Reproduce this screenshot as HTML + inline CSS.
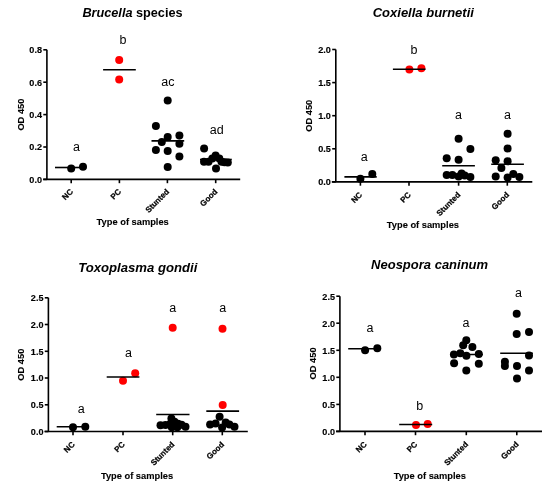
<!DOCTYPE html>
<html><head><meta charset="utf-8"><style>
html,body{margin:0;padding:0;background:#fff;width:550px;height:490px;overflow:hidden}
svg{display:block;will-change:transform;filter:blur(0.35px)}
text{font-family:"Liberation Sans",sans-serif}
.t{font-size:13px;font-weight:bold}
.tl{font-size:9.9px;font-weight:bold;stroke:#000;stroke-width:0.15px}
.at{font-size:9.3px;font-weight:bold;stroke:#000;stroke-width:0.1px}
.cl{font-size:8px;font-weight:bold;stroke:#000;stroke-width:0.25px}
.lt{font-size:12.5px}
</style></head><body>
<svg width="550" height="490" viewBox="0 0 550 490">
<rect width="550" height="490" fill="#fff"/>
<g>
<text class="t" x="132.5" y="17.3" text-anchor="middle" style="font-size:12.7px"><tspan font-style='italic'>Brucella</tspan> species</text>
<path d="M46.9 49.8 V179.4 M43.2 179.4 H240.2" stroke="#000" stroke-width="1.6" fill="none"/>
<path d="M43.3 179.4 H46.9" stroke="#000" stroke-width="1.6"/>
<text class="tl" x="0" y="0" text-anchor="end" transform="translate(42.0 182.8) scale(0.92 1)">0.0</text>
<path d="M43.3 147.0 H46.9" stroke="#000" stroke-width="1.6"/>
<text class="tl" x="0" y="0" text-anchor="end" transform="translate(42.0 150.4) scale(0.92 1)">0.2</text>
<path d="M43.3 114.6 H46.9" stroke="#000" stroke-width="1.6"/>
<text class="tl" x="0" y="0" text-anchor="end" transform="translate(42.0 118.0) scale(0.92 1)">0.4</text>
<path d="M43.3 82.2 H46.9" stroke="#000" stroke-width="1.6"/>
<text class="tl" x="0" y="0" text-anchor="end" transform="translate(42.0 85.6) scale(0.92 1)">0.6</text>
<path d="M43.3 49.8 H46.9" stroke="#000" stroke-width="1.6"/>
<text class="tl" x="0" y="0" text-anchor="end" transform="translate(42.0 53.2) scale(0.92 1)">0.8</text>
<path d="M71.2 179.4 V183.2" stroke="#000" stroke-width="1.6"/>
<text class="cl" x="0" y="0" text-anchor="end" transform="translate(73.5 192.2) rotate(-45)">NC</text>
<path d="M119.4 179.4 V183.2" stroke="#000" stroke-width="1.6"/>
<text class="cl" x="0" y="0" text-anchor="end" transform="translate(121.7 192.2) rotate(-45)">PC</text>
<path d="M167.4 179.4 V183.2" stroke="#000" stroke-width="1.6"/>
<text class="cl" x="0" y="0" text-anchor="end" transform="translate(169.7 192.2) rotate(-45)">Stunted</text>
<path d="M215.7 179.4 V183.2" stroke="#000" stroke-width="1.6"/>
<text class="cl" x="0" y="0" text-anchor="end" transform="translate(218.0 192.2) rotate(-45)">Good</text>
<text class="at" x="0" y="0" text-anchor="middle" transform="translate(23.5 114.6) rotate(-90)">OD 450</text>
<text class="at" x="132.7" y="224.9" text-anchor="middle">Type of samples</text>
<circle cx="71.2" cy="168.6" r="4.0" fill="#000"/>
<circle cx="83" cy="166.8" r="4.0" fill="#000"/>
<circle cx="119.2" cy="60" r="4.0" fill="#f00"/>
<circle cx="119.2" cy="79.6" r="4.0" fill="#f00"/>
<circle cx="167.7" cy="100.5" r="4.0" fill="#000"/>
<circle cx="155.9" cy="126" r="4.0" fill="#000"/>
<circle cx="167.7" cy="137.1" r="4.0" fill="#000"/>
<circle cx="179.4" cy="135.6" r="4.0" fill="#000"/>
<circle cx="161.8" cy="141.9" r="4.0" fill="#000"/>
<circle cx="179.4" cy="143.7" r="4.0" fill="#000"/>
<circle cx="155.9" cy="150" r="4.0" fill="#000"/>
<circle cx="167.7" cy="151.1" r="4.0" fill="#000"/>
<circle cx="179.4" cy="156.6" r="4.0" fill="#000"/>
<circle cx="167.7" cy="166.9" r="4.0" fill="#000"/>
<circle cx="204.1" cy="148.4" r="4.0" fill="#000"/>
<circle cx="216" cy="168.4" r="4.0" fill="#000"/>
<circle cx="204" cy="161.8" r="4.0" fill="#000"/>
<circle cx="208.5" cy="161.8" r="4.0" fill="#000"/>
<circle cx="212.3" cy="158.5" r="4.0" fill="#000"/>
<circle cx="215.6" cy="155.6" r="4.0" fill="#000"/>
<circle cx="219.3" cy="158.5" r="4.0" fill="#000"/>
<circle cx="221.5" cy="161.8" r="4.0" fill="#000"/>
<circle cx="224.5" cy="162.3" r="4.0" fill="#000"/>
<circle cx="227.8" cy="162.5" r="4.0" fill="#000"/>
<path d="M55 167.5 H86.4" stroke="#000" stroke-width="1.6"/>
<path d="M103.1 69.8 H135.8" stroke="#000" stroke-width="1.6"/>
<path d="M151.5 140.9 H184.2" stroke="#000" stroke-width="1.6"/>
<path d="M200 159.5 H231.8" stroke="#000" stroke-width="1.6"/>
<text class="lt" x="76.4" y="151.3" text-anchor="middle">a</text>
<text class="lt" x="123" y="43.5" text-anchor="middle">b</text>
<text class="lt" x="167.8" y="85.5" text-anchor="middle">ac</text>
<text class="lt" x="216.7" y="134" text-anchor="middle">ad</text>
</g>
<g>
<text class="t" x="423.3" y="17" text-anchor="middle" style="font-size:13px"><tspan font-style='italic'>Coxiella burnetii</tspan></text>
<path d="M335.8 49.5 V181.9 M331.8 181.9 H532.3" stroke="#000" stroke-width="1.6" fill="none"/>
<path d="M332.2 181.9 H335.8" stroke="#000" stroke-width="1.6"/>
<text class="tl" x="0" y="0" text-anchor="end" transform="translate(330.9 185.3) scale(0.92 1)">0.0</text>
<path d="M332.2 148.8 H335.8" stroke="#000" stroke-width="1.6"/>
<text class="tl" x="0" y="0" text-anchor="end" transform="translate(330.9 152.2) scale(0.92 1)">0.5</text>
<path d="M332.2 115.7 H335.8" stroke="#000" stroke-width="1.6"/>
<text class="tl" x="0" y="0" text-anchor="end" transform="translate(330.9 119.1) scale(0.92 1)">1.0</text>
<path d="M332.2 82.6 H335.8" stroke="#000" stroke-width="1.6"/>
<text class="tl" x="0" y="0" text-anchor="end" transform="translate(330.9 86.0) scale(0.92 1)">1.5</text>
<path d="M332.2 49.5 H335.8" stroke="#000" stroke-width="1.6"/>
<text class="tl" x="0" y="0" text-anchor="end" transform="translate(330.9 52.9) scale(0.92 1)">2.0</text>
<path d="M360.4 181.9 V185.7" stroke="#000" stroke-width="1.6"/>
<text class="cl" x="0" y="0" text-anchor="end" transform="translate(362.7 195.4) rotate(-45)">NC</text>
<path d="M409 181.9 V185.7" stroke="#000" stroke-width="1.6"/>
<text class="cl" x="0" y="0" text-anchor="end" transform="translate(411.3 195.4) rotate(-45)">PC</text>
<path d="M458.6 181.9 V185.7" stroke="#000" stroke-width="1.6"/>
<text class="cl" x="0" y="0" text-anchor="end" transform="translate(460.9 195.4) rotate(-45)">Stunted</text>
<path d="M507.3 181.9 V185.7" stroke="#000" stroke-width="1.6"/>
<text class="cl" x="0" y="0" text-anchor="end" transform="translate(509.6 195.4) rotate(-45)">Good</text>
<text class="at" x="0" y="0" text-anchor="middle" transform="translate(312.4 115.8) rotate(-90)">OD 450</text>
<text class="at" x="422.9" y="227.7" text-anchor="middle">Type of samples</text>
<circle cx="360.4" cy="178.7" r="4.0" fill="#000"/>
<circle cx="372.3" cy="174.1" r="4.0" fill="#000"/>
<circle cx="409.4" cy="69.6" r="4.0" fill="#f00"/>
<circle cx="421.4" cy="68.2" r="4.0" fill="#f00"/>
<circle cx="458.6" cy="138.8" r="4.0" fill="#000"/>
<circle cx="470.4" cy="149" r="4.0" fill="#000"/>
<circle cx="446.7" cy="158.2" r="4.0" fill="#000"/>
<circle cx="458.6" cy="159.8" r="4.0" fill="#000"/>
<circle cx="446.7" cy="175.1" r="4.0" fill="#000"/>
<circle cx="452.4" cy="175.1" r="4.0" fill="#000"/>
<circle cx="458.6" cy="176.5" r="4.0" fill="#000"/>
<circle cx="461.6" cy="173.5" r="4.0" fill="#000"/>
<circle cx="464.7" cy="175.5" r="4.0" fill="#000"/>
<circle cx="470.4" cy="177.1" r="4.0" fill="#000"/>
<circle cx="507.6" cy="133.7" r="4.0" fill="#000"/>
<circle cx="507.6" cy="148.4" r="4.0" fill="#000"/>
<circle cx="495.7" cy="160.2" r="4.0" fill="#000"/>
<circle cx="507.6" cy="161.2" r="4.0" fill="#000"/>
<circle cx="501.4" cy="168" r="4.0" fill="#000"/>
<circle cx="495.7" cy="176.5" r="4.0" fill="#000"/>
<circle cx="507.6" cy="177.6" r="4.0" fill="#000"/>
<circle cx="513.3" cy="173.9" r="4.0" fill="#000"/>
<circle cx="519.4" cy="177.1" r="4.0" fill="#000"/>
<path d="M344.4 176.9 H376.7" stroke="#000" stroke-width="1.6"/>
<path d="M392.9 69.2 H425.5" stroke="#000" stroke-width="1.6"/>
<path d="M442.2 165.7 H474.9" stroke="#000" stroke-width="1.6"/>
<path d="M491.2 164.2 H523.9" stroke="#000" stroke-width="1.6"/>
<text class="lt" x="364.2" y="160.5" text-anchor="middle">a</text>
<text class="lt" x="413.9" y="53.5" text-anchor="middle">b</text>
<text class="lt" x="458.6" y="119" text-anchor="middle">a</text>
<text class="lt" x="507.6" y="119" text-anchor="middle">a</text>
</g>
<g>
<text class="t" x="137.8" y="272" text-anchor="middle" style="font-size:13.15px"><tspan font-style='italic'>Toxoplasma gondii</tspan></text>
<path d="M48.4 297.8 V431.5 M44.5 431.5 H247.8" stroke="#000" stroke-width="1.6" fill="none"/>
<path d="M44.8 431.5 H48.4" stroke="#000" stroke-width="1.6"/>
<text class="tl" x="0" y="0" text-anchor="end" transform="translate(43.5 434.9) scale(0.92 1)">0.0</text>
<path d="M44.8 404.8 H48.4" stroke="#000" stroke-width="1.6"/>
<text class="tl" x="0" y="0" text-anchor="end" transform="translate(43.5 408.2) scale(0.92 1)">0.5</text>
<path d="M44.8 378.0 H48.4" stroke="#000" stroke-width="1.6"/>
<text class="tl" x="0" y="0" text-anchor="end" transform="translate(43.5 381.4) scale(0.92 1)">1.0</text>
<path d="M44.8 351.3 H48.4" stroke="#000" stroke-width="1.6"/>
<text class="tl" x="0" y="0" text-anchor="end" transform="translate(43.5 354.7) scale(0.92 1)">1.5</text>
<path d="M44.8 324.5 H48.4" stroke="#000" stroke-width="1.6"/>
<text class="tl" x="0" y="0" text-anchor="end" transform="translate(43.5 327.9) scale(0.92 1)">2.0</text>
<path d="M44.8 297.8 H48.4" stroke="#000" stroke-width="1.6"/>
<text class="tl" x="0" y="0" text-anchor="end" transform="translate(43.5 301.2) scale(0.92 1)">2.5</text>
<path d="M73 431.5 V435.3" stroke="#000" stroke-width="1.6"/>
<text class="cl" x="0" y="0" text-anchor="end" transform="translate(75.3 445.0) rotate(-45)">NC</text>
<path d="M123 431.5 V435.3" stroke="#000" stroke-width="1.6"/>
<text class="cl" x="0" y="0" text-anchor="end" transform="translate(125.3 445.0) rotate(-45)">PC</text>
<path d="M172.7 431.5 V435.3" stroke="#000" stroke-width="1.6"/>
<text class="cl" x="0" y="0" text-anchor="end" transform="translate(175.0 445.0) rotate(-45)">Stunted</text>
<path d="M222.3 431.5 V435.3" stroke="#000" stroke-width="1.6"/>
<text class="cl" x="0" y="0" text-anchor="end" transform="translate(224.6 445.0) rotate(-45)">Good</text>
<text class="at" x="0" y="0" text-anchor="middle" transform="translate(23.9 364.7) rotate(-90)">OD 450</text>
<text class="at" x="137" y="478.6" text-anchor="middle">Type of samples</text>
<circle cx="73" cy="427.2" r="4.0" fill="#000"/>
<circle cx="85.3" cy="426.7" r="4.0" fill="#000"/>
<circle cx="123" cy="380.7" r="4.0" fill="#f00"/>
<circle cx="135.2" cy="373.2" r="4.0" fill="#f00"/>
<circle cx="172.7" cy="327.8" r="4.0" fill="#f00"/>
<circle cx="160.5" cy="425.3" r="4.0" fill="#000"/>
<circle cx="165.5" cy="425" r="4.0" fill="#000"/>
<circle cx="171.4" cy="418.6" r="4.0" fill="#000"/>
<circle cx="170.2" cy="424" r="4.0" fill="#000"/>
<circle cx="174.5" cy="421.8" r="4.0" fill="#000"/>
<circle cx="178" cy="423.8" r="4.0" fill="#000"/>
<circle cx="181.5" cy="424.8" r="4.0" fill="#000"/>
<circle cx="185.5" cy="426.8" r="4.0" fill="#000"/>
<circle cx="171.8" cy="427.3" r="4.0" fill="#000"/>
<circle cx="177.3" cy="427.3" r="4.0" fill="#000"/>
<circle cx="222.5" cy="328.7" r="4.0" fill="#f00"/>
<circle cx="222.7" cy="405.1" r="4.0" fill="#f00"/>
<circle cx="219.6" cy="416.8" r="4.0" fill="#000"/>
<circle cx="210.1" cy="424.4" r="4.0" fill="#000"/>
<circle cx="215.6" cy="423.5" r="4.0" fill="#000"/>
<circle cx="222.1" cy="427.6" r="4.0" fill="#000"/>
<circle cx="225.7" cy="422.6" r="4.0" fill="#000"/>
<circle cx="229.4" cy="424.4" r="4.0" fill="#000"/>
<circle cx="234.5" cy="426.7" r="4.0" fill="#000"/>
<path d="M56.7 426.7 H88.6" stroke="#000" stroke-width="1.6"/>
<path d="M106.7 377.0 H139.4" stroke="#000" stroke-width="1.6"/>
<path d="M156.2 414.5 H189.5" stroke="#000" stroke-width="1.6"/>
<path d="M206.3 411.1 H239.1" stroke="#000" stroke-width="1.6"/>
<text class="lt" x="81.2" y="413" text-anchor="middle">a</text>
<text class="lt" x="128.4" y="357.4" text-anchor="middle">a</text>
<text class="lt" x="172.7" y="312" text-anchor="middle">a</text>
<text class="lt" x="222.7" y="312" text-anchor="middle">a</text>
</g>
<g>
<text class="t" x="429.6" y="269.4" text-anchor="middle" style="font-size:13px"><tspan font-style='italic'>Neospora caninum</tspan></text>
<path d="M339.9 296.2 V431.4 M336 431.4 H542" stroke="#000" stroke-width="1.6" fill="none"/>
<path d="M336.3 431.4 H339.9" stroke="#000" stroke-width="1.6"/>
<text class="tl" x="0" y="0" text-anchor="end" transform="translate(335.0 434.8) scale(0.92 1)">0.0</text>
<path d="M336.3 404.4 H339.9" stroke="#000" stroke-width="1.6"/>
<text class="tl" x="0" y="0" text-anchor="end" transform="translate(335.0 407.8) scale(0.92 1)">0.5</text>
<path d="M336.3 377.3 H339.9" stroke="#000" stroke-width="1.6"/>
<text class="tl" x="0" y="0" text-anchor="end" transform="translate(335.0 380.7) scale(0.92 1)">1.0</text>
<path d="M336.3 350.3 H339.9" stroke="#000" stroke-width="1.6"/>
<text class="tl" x="0" y="0" text-anchor="end" transform="translate(335.0 353.7) scale(0.92 1)">1.5</text>
<path d="M336.3 323.2 H339.9" stroke="#000" stroke-width="1.6"/>
<text class="tl" x="0" y="0" text-anchor="end" transform="translate(335.0 326.6) scale(0.92 1)">2.0</text>
<path d="M336.3 296.2 H339.9" stroke="#000" stroke-width="1.6"/>
<text class="tl" x="0" y="0" text-anchor="end" transform="translate(335.0 299.6) scale(0.92 1)">2.5</text>
<path d="M365 431.4 V435.2" stroke="#000" stroke-width="1.6"/>
<text class="cl" x="0" y="0" text-anchor="end" transform="translate(367.3 444.9) rotate(-45)">NC</text>
<path d="M415.5 431.4 V435.2" stroke="#000" stroke-width="1.6"/>
<text class="cl" x="0" y="0" text-anchor="end" transform="translate(417.8 444.9) rotate(-45)">PC</text>
<path d="M466.3 431.4 V435.2" stroke="#000" stroke-width="1.6"/>
<text class="cl" x="0" y="0" text-anchor="end" transform="translate(468.6 444.9) rotate(-45)">Stunted</text>
<path d="M516.8 431.4 V435.2" stroke="#000" stroke-width="1.6"/>
<text class="cl" x="0" y="0" text-anchor="end" transform="translate(519.1 444.9) rotate(-45)">Good</text>
<text class="at" x="0" y="0" text-anchor="middle" transform="translate(316.1 363.4) rotate(-90)">OD 450</text>
<text class="at" x="429.8" y="478.6" text-anchor="middle">Type of samples</text>
<circle cx="365.1" cy="350.2" r="4.0" fill="#000"/>
<circle cx="377.3" cy="348.2" r="4.0" fill="#000"/>
<circle cx="416" cy="424.9" r="4.0" fill="#f00"/>
<circle cx="427.7" cy="424" r="4.0" fill="#f00"/>
<circle cx="466.3" cy="340.2" r="4.0" fill="#000"/>
<circle cx="463.2" cy="345.2" r="4.0" fill="#000"/>
<circle cx="472.4" cy="347" r="4.0" fill="#000"/>
<circle cx="453.9" cy="354.4" r="4.0" fill="#000"/>
<circle cx="460.3" cy="353.2" r="4.0" fill="#000"/>
<circle cx="466.4" cy="355.8" r="4.0" fill="#000"/>
<circle cx="478.8" cy="354" r="4.0" fill="#000"/>
<circle cx="454.1" cy="363.3" r="4.0" fill="#000"/>
<circle cx="478.8" cy="363.8" r="4.0" fill="#000"/>
<circle cx="466.3" cy="370.4" r="4.0" fill="#000"/>
<circle cx="516.7" cy="313.7" r="4.0" fill="#000"/>
<circle cx="516.7" cy="334.1" r="4.0" fill="#000"/>
<circle cx="529" cy="332" r="4.0" fill="#000"/>
<circle cx="529" cy="355.6" r="4.0" fill="#000"/>
<circle cx="504.9" cy="361.8" r="4.0" fill="#000"/>
<circle cx="504.9" cy="365.9" r="4.0" fill="#000"/>
<circle cx="517" cy="366" r="4.0" fill="#000"/>
<circle cx="529" cy="370.5" r="4.0" fill="#000"/>
<circle cx="517" cy="378.6" r="4.0" fill="#000"/>
<path d="M348.2 348.8 H380.8" stroke="#000" stroke-width="1.6"/>
<path d="M399.2 424.5 H432.2" stroke="#000" stroke-width="1.6"/>
<path d="M450.2 354.5 H482.9" stroke="#000" stroke-width="1.6"/>
<path d="M500.2 353.3 H532.9" stroke="#000" stroke-width="1.6"/>
<text class="lt" x="370" y="332.3" text-anchor="middle">a</text>
<text class="lt" x="419.8" y="409.5" text-anchor="middle">b</text>
<text class="lt" x="466.1" y="326.8" text-anchor="middle">a</text>
<text class="lt" x="518.6" y="296.8" text-anchor="middle">a</text>
</g>
</svg>
</body></html>
